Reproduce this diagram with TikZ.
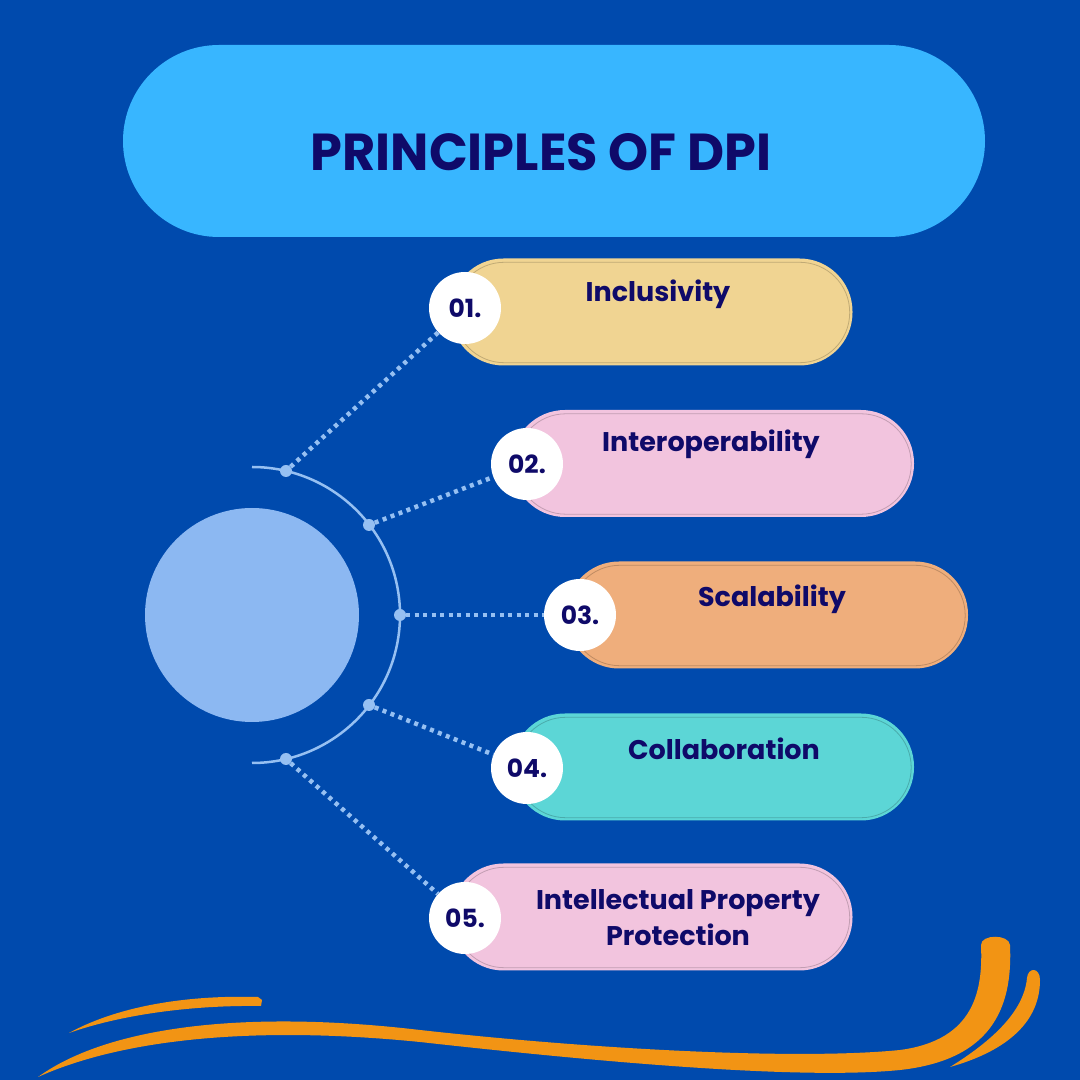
\documentclass[tikz,border=0pt]{standalone}
\usepackage{fontspec}
\setmainfont{Poppins}
\definecolor{bg}{RGB}{0,74,173}
\definecolor{titlebg}{RGB}{56,182,255}
\definecolor{navy}{RGB}{15,10,105}
\definecolor{bigc}{RGB}{140,184,242}
\definecolor{arcc}{RGB}{150,192,242}
\definecolor{pa}{RGB}{240,212,146}
\definecolor{pb}{RGB}{242,196,222}
\definecolor{pc}{RGB}{239,174,124}
\definecolor{pd}{RGB}{92,214,214}
\definecolor{orng}{RGB}{242,148,20}
\tikzset{
  pill/.style={rectangle, rounded corners=53pt, minimum width=402pt, minimum height=107pt, inner sep=0pt},
  pilledge/.style={draw=#1, line width=0.8pt, rounded corners=50pt},
  numc/.style={circle, fill=white, minimum size=72pt, inner sep=0pt, text=navy, font=\fontsize{25}{28}\selectfont\bfseries},
  dotn/.style={circle, fill=arcc, minimum size=12pt, inner sep=0pt},
  conn/.style={draw=arcc, line width=4.5pt, dash pattern=on 4pt off 4.5pt},
  lbl/.style={text=navy, font=\fontsize{27}{36}\selectfont\bfseries, align=center, inner sep=0pt},
}
\begin{document}
\begin{tikzpicture}[x=1pt,y=1pt]
\useasboundingbox (0,0) rectangle (1080,1080);
\fill[bg] (0,0) rectangle (1080,1080);
% title
\node[rectangle, rounded corners=96pt, fill=titlebg, minimum width=862pt, minimum height=192pt, inner sep=0pt] (title) at (554,939) {};
\node[text=navy, font=\fontsize{52}{60}\selectfont\bfseries, inner sep=0pt] (titletext) at (541,928) {\scalebox{0.98}[1]{PRINCIPLES OF DPI}};
% central circle and arc
\node[circle, fill=bigc, minimum size=214pt, inner sep=0pt] (hub) at (252,465) {};
\draw[arcc, line width=2.5pt] (252,613) arc[start angle=90, end angle=-90, radius=148];
\node[dotn] (d1) at (286,609) {};
\node[dotn] (d2) at (369,555) {};
\node[dotn] (d3) at (400,465) {};
\node[dotn] (d4) at (369,375) {};
\node[dotn] (d5) at (286,321) {};
% pills
\node[pill, fill=pa] (p1) at (651.5,768) {};
\node[pill, fill=pb] (p2) at (713,616.5) {};
\node[pill, fill=pc] (p3) at (767,465) {};
\node[pill, fill=pd] (p4) at (713,313) {};
\node[pill, fill=pb] (p5) at (651.5,163) {};
\draw[pilledge=pa!80!black] ([shift={(4,3)}]p1.south west) rectangle ([shift={(-3,-4)}]p1.north east);
\draw[pilledge=pb!80!black] ([shift={(4,3)}]p2.south west) rectangle ([shift={(-3,-4)}]p2.north east);
\draw[pilledge=pc!80!black] ([shift={(4,3)}]p3.south west) rectangle ([shift={(-3,-4)}]p3.north east);
\draw[pilledge=pd!80!black] ([shift={(4,3)}]p4.south west) rectangle ([shift={(-3,-4)}]p4.north east);
\draw[pilledge=pb!80!black] ([shift={(4,3)}]p5.south west) rectangle ([shift={(-3,-4)}]p5.north east);
% number circles
\node[numc] (c1) at (465,772) {01.};
\node[numc] (c2) at (527,616) {02.};
\node[numc] (c3) at (580,465) {03.};
\node[numc] (c4) at (527,312) {04.};
\node[numc] (c5) at (465,162) {05.};
% labels
\node[lbl] (t1) at (658,786) {Inclusivity};
\node[lbl] (t2) at (711,636) {Interoperability};
\node[lbl] (t3) at (772,481) {Scalability};
\node[lbl] (t4) at (724,331) {Collaboration};
\node[lbl] (t5) at (678,162) {Intellectual Property\\Protection};
% connectors
\draw[conn] (d1) -- (c1);
\draw[conn] (d2) -- (c2);
\draw[conn] (d3) -- (c3);
\draw[conn] (d4) -- (c4);
\draw[conn] (d5) -- (c5);
% swooshes
\fill[orng] (38,3) .. controls (110,55) and (250,70) .. (420,50) .. controls (600,30) and (800,20) .. (900,30) .. controls (975,40) and (983,90) .. (981,135) .. controls (981,146) and (1009,146) .. (1010,135) .. controls (1013,70) and (990,20) .. (900,10) .. controls (800,0) and (600,18) .. (420,38) .. controls (250,55) and (120,40) .. (38,3) -- cycle;
\fill[orng] (69,47) .. controls (120,75) and (190,85) .. (258,83) -- (262,80) -- (261,74) .. controls (190,75) and (120,65) .. (69,47) -- cycle;
\fill[orng] (950,13) .. controls (1010,50) and (1025,80) .. (1027,102) .. controls (1028,113) and (1040,113) .. (1040,100) .. controls (1040,60) and (1010,30) .. (950,13) -- cycle;
\end{tikzpicture}
\end{document}
